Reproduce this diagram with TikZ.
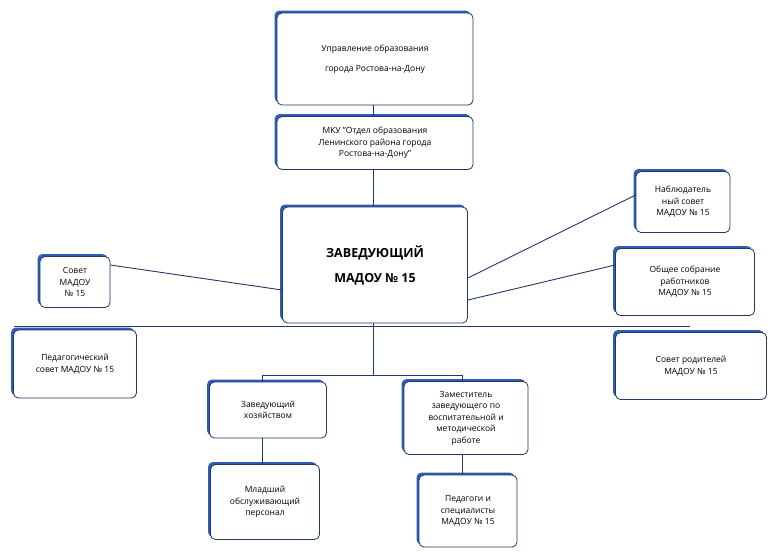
\documentclass[tikz,border=0pt]{standalone}
\usepackage{fontspec}
\setmainfont{Open Sans}
\usetikzlibrary{positioning, calc, shadows}
\definecolor{orgnavy}{HTML}{1F3864}
\definecolor{orgblue}{HTML}{2E5CB8}

\begin{document}
\begin{tikzpicture}[
    x=1pt, y=-1pt,
    every node/.style={font=\fontsize{8.5}{11.5}\selectfont},
    orgbox/.style={
        rectangle,
        rounded corners=5pt,
        draw=orgnavy,
        fill=white,
        line width=0.8pt,
        align=center,
        inner sep=2pt,
        general shadow={fill=orgblue, shadow xshift=-2.5pt, shadow yshift=2.5pt}
    },
    link/.style={draw=orgnavy, line width=0.9pt}
]
\useasboundingbox (0,0) rectangle (779,558);

% Top chain
\node[orgbox, minimum width=196pt, minimum height=92pt, font=\fontsize{8.5}{20}\selectfont] (uprav) at (375,59) {Управление образования\\города Ростова-на-Дону};
\node[orgbox, minimum width=196pt, minimum height=53pt] (mku) at (375,143) {МКУ "Отдел образования\\Ленинского района города\\Ростова-на-Дону"};
\node[orgbox, minimum width=185pt, minimum height=116pt, font=\fontsize{12.5}{25}\selectfont\bfseries] (head) at (375,265) {ЗАВЕДУЮЩИЙ\\МАДОУ № 15};

% Side councils
\node[orgbox, minimum width=70pt, minimum height=51pt] (sovet) at (75,282) {Совет\\МАДОУ\\№ 15};
\node[orgbox, minimum width=123pt, minimum height=68pt] (pedsovet) at (75,364) {Педагогический\\совет МАДОУ № 15};
\node[orgbox, minimum width=94pt, minimum height=61pt] (watch) at (683,202) {Наблюдатель\\ный совет\\МАДОУ № 15};
\node[orgbox, minimum width=139pt, minimum height=67pt] (meeting) at (685,282) {Общее собрание\\работников\\МАДОУ № 15};
\node[orgbox, minimum width=151pt, minimum height=67pt] (parents) at (691,366) {Совет родителей\\МАДОУ № 15};

% Lower branches
\node[orgbox, minimum width=117pt, minimum height=56pt] (supply) at (268,410) {Заведующий\\хозяйством};
\node[orgbox, minimum width=124pt, minimum height=73pt] (deputy) at (466,418) {Заместитель\\заведующего по\\воспитательной и\\методической\\работе};
\node[orgbox, minimum width=109pt, minimum height=75pt] (staff) at (265,502) {Младший\\обслуживающий\\персонал};
\node[orgbox, minimum width=98pt, minimum height=72pt] (teachers) at (468,511) {Педагоги и\\специалисты\\МАДОУ № 15};

% Connectors
\coordinate (busL) at (14,326);
\coordinate (busR) at (690,326);
\coordinate (fork) at (373,375);
\draw[link] (uprav.south -| 373,0) -- (mku.north -| 373,0);
\draw[link] (mku.south -| 373,0) -- (head.north -| 373,0);
\draw[link] (busL) -- (busR);
\draw[link] (head.south -| fork) -- (fork);
\draw[link] (fork -| 262,0) -- (fork -| 462,0);
\draw[link] (fork -| 262,0) -- (supply.north -| 262,0);
\draw[link] (fork -| 462,0) -- (deputy.north -| 462,0);
\draw[link] (supply.south -| 262,0) -- (staff.north -| 262,0);
\draw[link] (deputy.south -| 462,0) -- (teachers.north -| 462,0);
\draw[link] (head.west |- 0,290) -- (sovet.east |- 0,265);
\draw[link] (head.east |- 0,278) -- (watch.west |- 0,195);
\draw[link] (head.east |- 0,300) -- (meeting.west |- 0,265);

\end{tikzpicture}
\end{document}
